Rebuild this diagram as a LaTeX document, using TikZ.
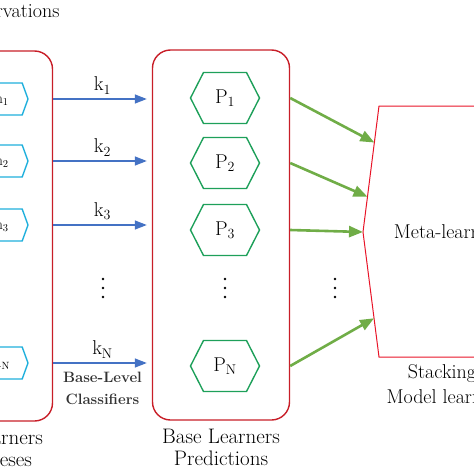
\documentclass[tikz,border=0pt]{standalone}
\usepackage{fontspec}
\usetikzlibrary{arrows.meta, positioning, shapes.symbols, calc}
\definecolor{BoxR}{RGB}{200,30,40}
\definecolor{MetaR}{RGB}{232,20,40}
\definecolor{HypC}{RGB}{30,175,220}
\definecolor{PredG}{RGB}{30,160,90}
\definecolor{ArrB}{RGB}{68,114,196}
\definecolor{ArrG}{RGB}{112,173,71}
\definecolor{DG}{RGB}{50,50,50}

\begin{document}
\begin{tikzpicture}[x=1pt, y=-1pt,
  grp/.style={draw=BoxR, line width=1.4pt, rounded corners=18pt,
              minimum width=137pt, minimum height=370pt},
  hyp/.style={draw=HypC, line width=1.4pt, shape=signal, signal to=east and west,
               signal pointer angle=140, minimum width=52pt, minimum height=32pt,
               inner sep=0pt, font=\fontsize{15}{17}\selectfont},
  pred/.style={draw=PredG, line width=1.4pt, shape=signal, signal to=east and west,
               signal pointer angle=126, minimum width=69pt, minimum height=51pt,
               inner sep=0pt, font=\fontsize{20}{22}\selectfont},
  barr/.style={-{Triangle[length=12pt,width=9pt]}, draw=ArrB, line width=1.3pt,
               shorten >=5pt},
  garr/.style={-{Triangle[length=14pt,width=11pt]}, draw=ArrG, line width=2.6pt},
  klbl/.style={font=\fontsize{20}{22}\selectfont, above=1pt},
  grplbl/.style={font=\fontsize{21}{22}\selectfont, align=center},
  dotp/.style={fill=black, circle, inner sep=0pt, minimum size=2.6pt}
]
\useasboundingbox (0,0) rectangle (474,474);
\clip (0,0) rectangle (474,474);

% Top caption (cut off)
\node[font=\fontsize{20}{22}\selectfont, anchor=east] (obs) at (63,11) {Observations};

% Groups
\node[grp] (lbox) at (-16,236) {};
\node[grp] (mbox) at (221,235) {};
\node[grplbl, below=5pt of lbox] (llbl) {Base Learners\\Hypotheses};
\node[grplbl, below=5pt of mbox] (mlbl) {Base Learners\\Predictions};

% Hypotheses
\node[hyp] (h1) at (2,99)  {h\textsubscript{1}};
\node[hyp] (h2) at (2,161) {h\textsubscript{2}};
\node[hyp] (h3) at (2,225) {h\textsubscript{3}};
\node[hyp] (hN) at (2,363) {h\textsubscript{N}};

% Predictions
\node[pred] (p1) at (225,98)  {P\textsubscript{1}};
\node[pred] (p2) at (225,163) {P\textsubscript{2}};
\node[pred] (p3) at (225,230) {P\textsubscript{3}};
\node[pred] (pN) at (225,366) {P\textsubscript{N}};

% Base-level classifiers
\draw[barr] (lbox.east |- h1) -- node[klbl]{k\textsubscript{1}} (mbox.west |- h1);
\draw[barr] (lbox.east |- h2) -- node[klbl]{k\textsubscript{2}} (mbox.west |- h2);
\draw[barr] (lbox.east |- h3) -- node[klbl]{k\textsubscript{3}} (mbox.west |- h3);
\draw[barr] (lbox.east |- hN) -- node[klbl]{k\textsubscript{N}}
  node[below=5pt, font=\bfseries\fontsize{15}{22}\selectfont, text=DG, align=center]
  {Base-Level\\Classifiers} (mbox.west |- hN);

% Meta-learner
\coordinate (mtl) at (379,106);
\coordinate (mtip) at (363,232);
\coordinate (mbl) at (379,357);
\draw[MetaR, line width=1pt] (540,106) -- (mtl) -- (mtip) -- (mbl) -- (540,357);
\node[font=\fontsize{20}{22}\selectfont] (meta) at (445,232) {Meta-learner};
\node[grplbl, font=\fontsize{20}{25}\selectfont, below=4pt of mbl, xshift=63pt]
  (stk) {Stacking\\Model learner};

\draw[garr] (mbox.east |- p1) -- ($(mtl)!0.29!(mtip)$);
\draw[garr] (mbox.east |- p2) -- ($(mtl)!0.72!(mtip)$);
\draw[garr] (mbox.east |- p3) -- (mtip);
\draw[garr] (mbox.east |- pN) -- ($(mtip)!0.69!(mbl)$);

% Vertical dots
\foreach \x in {103,225,335}
  \foreach \y in {279,288,297}
    \node[dotp] at (\x,\y) {};
\end{tikzpicture}
\end{document}
